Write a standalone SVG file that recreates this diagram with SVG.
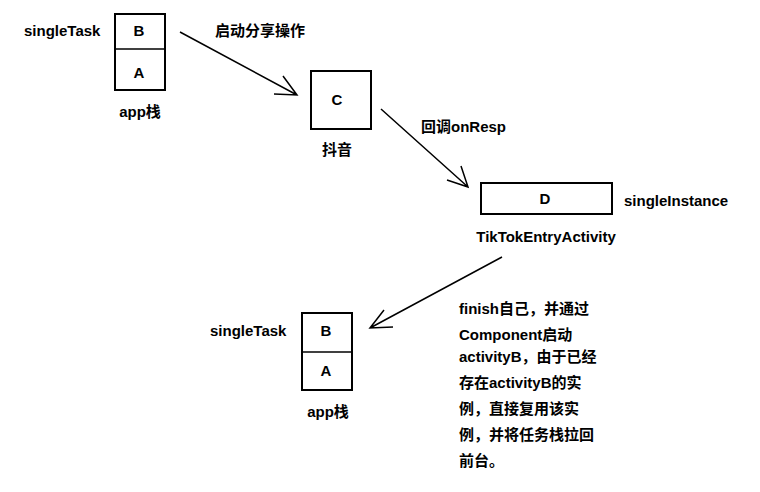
<svg xmlns="http://www.w3.org/2000/svg" width="760" height="492" viewBox="0 0 760 492">
<style>
text{font-family:"Liberation Sans","Noto Sans CJK SC",sans-serif;font-weight:bold;font-size:15px;fill:#000}
.c{text-anchor:middle}
.box{fill:#fff;stroke:#000;stroke-width:2}
.ln{stroke:#000;stroke-width:1.5;fill:none}
</style>
<rect width="760" height="492" fill="#fff"/>
<g id="stack1">
<rect class="box" x="115" y="14" width="50" height="76"/>
<line class="ln" x1="115" y1="49" x2="165" y2="49" stroke-width="2"/>
<text class="c" x="139" y="36">B</text>
<text class="c" x="139" y="78">A</text>
<text x="24" y="36">singleTask</text>
<text class="c" x="140" y="117">app栈</text>
</g>
<g id="nodeC">
<rect class="box" x="311" y="71" width="60" height="58"/>
<text class="c" x="337" y="105">C</text>
<text class="c" x="337" y="155">抖音</text>
</g>
<g id="nodeD">
<rect class="box" x="481" y="183" width="131" height="31"/>
<text class="c" x="545" y="204">D</text>
<text x="624" y="206">singleInstance</text>
<text class="c" x="546" y="242">TikTokEntryActivity</text>
</g>
<g id="stack2">
<rect class="box" x="302" y="313" width="50" height="77"/>
<line class="ln" x1="302" y1="352" x2="352" y2="352" stroke-width="2"/>
<text class="c" x="326" y="336">B</text>
<text class="c" x="326" y="376">A</text>
<text x="210" y="336">singleTask</text>
<text class="c" x="328" y="417">app栈</text>
</g>
<g id="connectors">
<path class="ln" d="M180 32 L297 95 M274 94 L297 95 L283 76"/>
<path class="ln" d="M381 109 L468 187 M447 180 L468 187 L461 166"/>
<path class="ln" d="M502 257 L370 328 M384 310 L370 328 L393 327"/>
<text x="215" y="36">启动分享操作</text>
<text x="421" y="132">回调onResp</text>
</g>
<g id="note">
<text x="459" y="314">finish自己，并通过</text>
<text x="459" y="340">Component启动</text>
<text x="459" y="362">activityB，由于已经</text>
<text x="459" y="388">存在activityB的实</text>
<text x="459" y="414">例，直接复用该实</text>
<text x="459" y="440">例，并将任务栈拉回</text>
<text x="459" y="466">前台。</text>
</g>
</svg>
